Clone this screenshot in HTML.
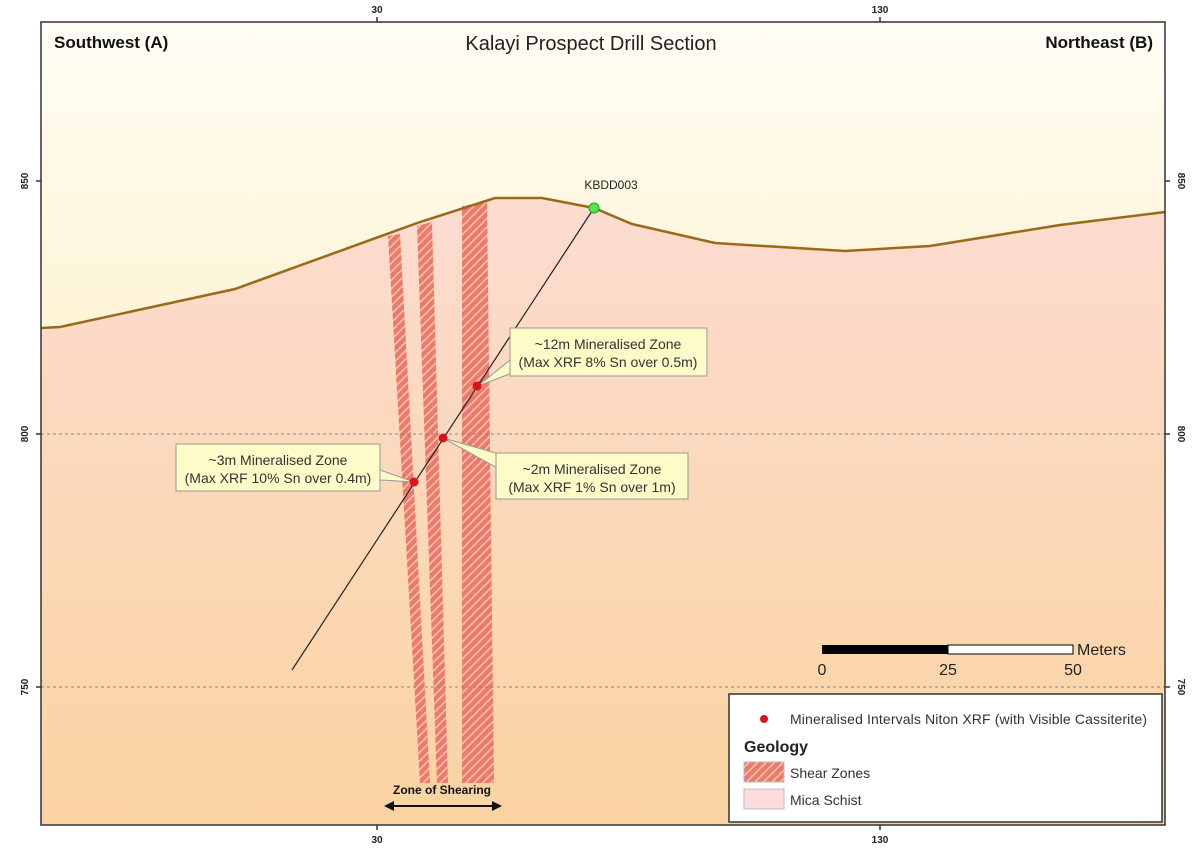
<!DOCTYPE html>
<html><head><meta charset="utf-8"><style>
body{margin:0;background:#fff;}
svg{display:block;font-family:"Liberation Sans",Arial,sans-serif;}
</style></head><body>
<svg width="1200" height="848" viewBox="0 0 1200 848">
<defs>
<linearGradient id="sky" x1="0" y1="0" x2="0" y2="1">
<stop offset="0" stop-color="#fffdf6"/><stop offset="0.4" stop-color="#fef4d4"/><stop offset="1" stop-color="#fcd9a8"/>
</linearGradient>
<linearGradient id="gnd" x1="0" y1="0" x2="0" y2="1">
<stop offset="0" stop-color="#fcdcd0"/><stop offset="0.5" stop-color="#fbd8b8"/><stop offset="1" stop-color="#fbd3a2"/>
</linearGradient>
<pattern id="hatch" width="6" height="6" patternUnits="userSpaceOnUse" patternTransform="rotate(45)">
<rect width="6" height="6" fill="#ec7a6a"/><rect width="1.6" height="6" fill="#f8c2b0"/>
</pattern>
</defs>
<rect x="41" y="22" width="1124" height="803" fill="url(#sky)"/>
<polygon points="41,328 60,327 235,289 420,222 495,198 542,198 594,208 632,224 715,243 845,251 930,246 1060,225 1165,212 1165,825 41,825" fill="url(#gnd)"/>
<polygon points="388,236 400,234 430,783 420,783" fill="url(#hatch)"/>
<polygon points="417,226 432,222 448,783 437,783" fill="url(#hatch)"/>
<polygon points="462,206 487,202 494,783 462,783" fill="url(#hatch)"/>
<polyline points="41,328 60,327 235,289 420,222 495,198 542,198 594,208 632,224 715,243 845,251 930,246 1060,225 1165,212" fill="none" stroke="#9a6a1a" stroke-width="2.5"/>
<line x1="41" y1="434" x2="1165" y2="434" stroke="#888" stroke-dasharray="3,3" stroke-width="1"/>
<line x1="41" y1="687" x2="1165" y2="687" stroke="#888" stroke-dasharray="3,3" stroke-width="1"/>
<line x1="594" y1="208" x2="292" y2="670" stroke="#222" stroke-width="1.2"/>
<circle cx="594" cy="208" r="5" fill="#4de84a" stroke="#2a9a2a"/>
<text x="611" y="189" font-size="12" text-anchor="middle" fill="#222">KBDD003</text>
<polygon points="510,360 478,386 520,370" fill="#fdfcc8" stroke="#999"/>
<rect x="510" y="328" width="197" height="48" fill="#fdfcc8" stroke="#999"/>
<text x="608" y="349" font-size="14" text-anchor="middle" fill="#333">~12m Mineralised Zone</text>
<text x="608" y="367" font-size="14" text-anchor="middle" fill="#333">(Max XRF 8% Sn over 0.5m)</text>
<polygon points="520,460 443,438 510,475" fill="#fdfcc8" stroke="#999"/>
<rect x="496" y="453" width="192" height="46" fill="#fdfcc8" stroke="#999"/>
<text x="592" y="474" font-size="14" text-anchor="middle" fill="#333">~2m Mineralised Zone</text>
<text x="592" y="492" font-size="14" text-anchor="middle" fill="#333">(Max XRF 1% Sn over 1m)</text>
<polygon points="380,470 414,482 380,480" fill="#fdfcc8" stroke="#999"/>
<rect x="176" y="444" width="204" height="47" fill="#fdfcc8" stroke="#999"/>
<text x="278" y="465" font-size="14" text-anchor="middle" fill="#333">~3m Mineralised Zone</text>
<text x="278" y="483" font-size="14" text-anchor="middle" fill="#333">(Max XRF 10% Sn over 0.4m)</text>
<circle cx="477" cy="386" r="4.5" fill="#d8141a"/>
<circle cx="443" cy="438" r="4.5" fill="#d8141a"/>
<circle cx="414" cy="482" r="4.5" fill="#d8141a"/>
<text x="442" y="794" font-size="12" font-weight="bold" text-anchor="middle" fill="#111">Zone of Shearing</text>
<line x1="390" y1="806" x2="496" y2="806" stroke="#111" stroke-width="2"/>
<polygon points="384,806 394,801 394,811" fill="#111"/>
<polygon points="502,806 492,801 492,811" fill="#111"/>
<rect x="822" y="645" width="126" height="9" fill="#000"/>
<rect x="948" y="645" width="125" height="9" fill="#fff" stroke="#000"/>
<text x="1077" y="655" font-size="16" fill="#222">Meters</text>
<text x="822" y="675" font-size="16" text-anchor="middle" fill="#222">0</text>
<text x="948" y="675" font-size="16" text-anchor="middle" fill="#222">25</text>
<text x="1073" y="675" font-size="16" text-anchor="middle" fill="#222">50</text>
<rect x="729" y="694" width="433" height="128" fill="#fff" stroke="#333" stroke-width="1.5"/>
<circle cx="764" cy="719" r="4" fill="#d8141a"/>
<text x="790" y="724" font-size="14" fill="#333" textLength="357">Mineralised Intervals Niton XRF (with Visible Cassiterite)</text>
<text x="744" y="752" font-size="16" font-weight="bold" fill="#222">Geology</text>
<rect x="744" y="762" width="40" height="20" fill="url(#hatch)" stroke="#bbb"/>
<text x="790" y="778" font-size="14" fill="#333">Shear Zones</text>
<rect x="744" y="789" width="40" height="20" fill="#fcdcdc" stroke="#bbb"/>
<text x="790" y="805" font-size="14" fill="#333">Mica Schist</text>
<rect x="41" y="22" width="1124" height="803" fill="none" stroke="#333" stroke-width="1.5"/>
<text x="54" y="48" font-size="17" font-weight="bold" fill="#111">Southwest (A)</text>
<text x="1153" y="48" font-size="17" font-weight="bold" fill="#111" text-anchor="end">Northeast (B)</text>
<text x="591" y="50" font-size="20" fill="#222" text-anchor="middle">Kalayi Prospect Drill Section</text>
<g stroke="#333" stroke-width="1.5">
<line x1="377" y1="17" x2="377" y2="22"/><line x1="880" y1="17" x2="880" y2="22"/>
<line x1="377" y1="825" x2="377" y2="830"/><line x1="880" y1="825" x2="880" y2="830"/>
<line x1="36" y1="181" x2="41" y2="181"/><line x1="36" y1="434" x2="41" y2="434"/><line x1="36" y1="687" x2="41" y2="687"/>
<line x1="1165" y1="181" x2="1170" y2="181"/><line x1="1165" y1="434" x2="1170" y2="434"/><line x1="1165" y1="687" x2="1170" y2="687"/>
</g>
<g font-size="10" font-weight="bold" fill="#222" text-anchor="middle">
<text x="377" y="13">30</text><text x="880" y="13">130</text>
<text x="377" y="843">30</text><text x="880" y="843">130</text>
<text transform="translate(28,181) rotate(-90)">850</text>
<text transform="translate(28,434) rotate(-90)">800</text>
<text transform="translate(28,687) rotate(-90)">750</text>
<text transform="translate(1178,181) rotate(90)">850</text>
<text transform="translate(1178,434) rotate(90)">800</text>
<text transform="translate(1178,687) rotate(90)">750</text>
</g>
</svg>
</body></html>
